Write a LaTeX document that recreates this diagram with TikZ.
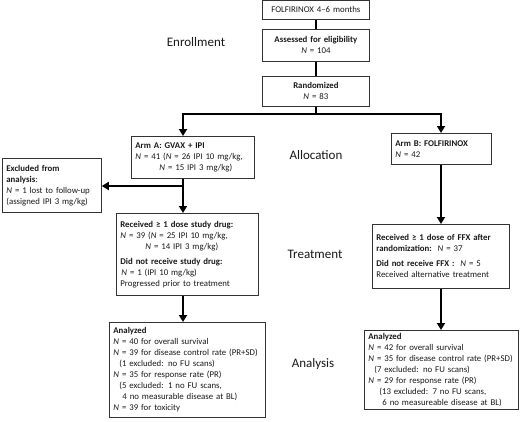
\documentclass[tikz,border=0pt]{standalone}
\usepackage{fontspec}
\setmainfont{Carlito}
\usepackage{tikz}
\usetikzlibrary{arrows.meta,positioning,calc}
\newcommand{\Nn}{\textit{N}}
\newcommand{\boxfont}{\fontsize{8.8}{11}\selectfont}

\begin{document}
\begin{tikzpicture}[x=1pt, y=-1pt,
    box/.style={draw=black!80, line width=0.8pt, fill=white, inner xsep=4pt, inner ysep=3pt,
                font=\boxfont, text=black!90, anchor=north west},
    cbox/.style={box, align=center},
    lbox/.style={box, align=left},
    stage/.style={font=\fontsize{13}{15}\selectfont, text=black!90},
    flow/.style={line width=2.3pt, black},
    flowarrow/.style={flow, -{Triangle[width=8pt,length=7pt]}}]
    \useasboundingbox (0,0) rectangle (520,421);

    % Enrollment
    \node[cbox, text width=99pt, minimum height=19pt] (fol) at (262,0) {FOLFIRINOX 4--6 months};
    \node[cbox, text width=99pt, minimum height=32pt] (assess) at (262,29) {\textbf{Assessed for eligibility}\\\Nn{} = 104};
    \node[cbox, text width=99pt, minimum height=30pt] (rand) at (262,76) {\textbf{Randomized}\\\Nn{} = 83};
    \node[stage] (enroll) at (196,42) {Enrollment};

    % Allocation
    \node[lbox, text width=115pt, minimum height=42pt] (armA) at (131,136) {\textbf{Arm A: GVAX + IPI}\\\Nn{} = 41 (\Nn{} = 26 IPI 10 mg/kg,\\\hspace*{24pt}\Nn{} = 15 IPI 3 mg/kg)};
    \node[lbox, text width=92pt, minimum height=31pt] (armB) at (391,133) {\textbf{Arm B: FOLFIRINOX}\\\Nn{} = 42};
    \node[stage] (alloc) at (316,155) {Allocation};
    \node[lbox, text width=91pt, minimum height=54pt] (excl) at (2,158) {\textbf{Excluded from}\\\textbf{analysis}:\\\Nn{} = 1 lost to follow-up\\(assigned IPI 3 mg/kg)};

    % Treatment
    \node[lbox, text width=134pt, minimum height=82pt] (treatA) at (116,213) {\textbf{Received ≥ 1 dose study drug:}\\\Nn{} = 39 (\Nn{} = 25 IPI 10 mg/kg,\\\hspace*{25pt}\Nn{} = 14 IPI 3 mg/kg)\\[4pt]\textbf{Did not receive study drug:}\\\hspace*{1pt}\Nn{} = 1 (IPI 10 mg/kg)\\Progressed prior to treatment};
    \node[lbox, text width=129pt, minimum height=64pt] (treatB) at (372,224) {\textbf{Received ≥ 1 dose of FFX after}\\\textbf{randomization:}\ \ \Nn{} = 37\\[4pt]\textbf{Did not receive FFX :}\ \ \Nn{} = 5\\Received alternative treatment};
    \node[stage] (treat) at (315,254) {Treatment};

    % Analysis
    \node[lbox, text width=148pt, minimum height=95pt] (anaA) at (109,322) {\textbf{Analyzed}\\\Nn{} = 40 for overall survival\\\Nn{} = 39 for disease control rate (PR+SD)\\\hspace*{6pt}(1 excluded: no FU scans)\\\Nn{} = 35 for response rate (PR)\\\hspace*{6pt}(5 excluded: 1 no FU scans,\\\hspace*{9pt}4 no measurable disease at BL)\\\Nn{} = 39 for toxicity};
    \node[lbox, text width=146pt, minimum height=77pt] (anaB) at (364,330) {\textbf{Analyzed}\\\Nn{} = 42 for overall survival\\\Nn{} = 35 for disease control rate (PR+SD)\\\hspace*{6pt}(7 excluded: no FU scans)\\\Nn{} = 29 for response rate (PR)\\\hspace*{11pt}(13 excluded: 7 no FU scans,\\\hspace*{14pt}6 no measureable disease at BL)};
    \node[stage] (analysis) at (313,364) {Analysis};

    % Flow lines
    \coordinate (splitL) at (183,114);
    \coordinate (splitR) at (441,114);
    \coordinate (branchA) at (183,186);
    \draw[flow] (fol) -- (assess);
    \draw[flow] (assess) -- (rand);
    \draw[flow] (rand.south) -- (rand.south |- splitL);
    \draw[flow] ([xshift=-1.15pt]splitL) -- ([xshift=1.15pt]splitR);
    \draw[flowarrow] (splitL) -- (splitL |- armA.north);
    \draw[flowarrow] (splitR) -- (splitR |- armB.north);
    \draw[flow] (branchA |- armA.south) -- (branchA);
    \draw[flowarrow] ([xshift=1.15pt]branchA) -- (excl.east |- branchA);
    \draw[flowarrow] (branchA) -- (branchA |- treatA.north);
    \draw[flowarrow] (splitR |- armB.south) -- (splitR |- treatB.north);
    \draw[flowarrow] (branchA |- treatA.south) -- (branchA |- anaA.north);
    \draw[flowarrow] (splitR |- treatB.south) -- (splitR |- anaB.north);
\end{tikzpicture}
\end{document}
